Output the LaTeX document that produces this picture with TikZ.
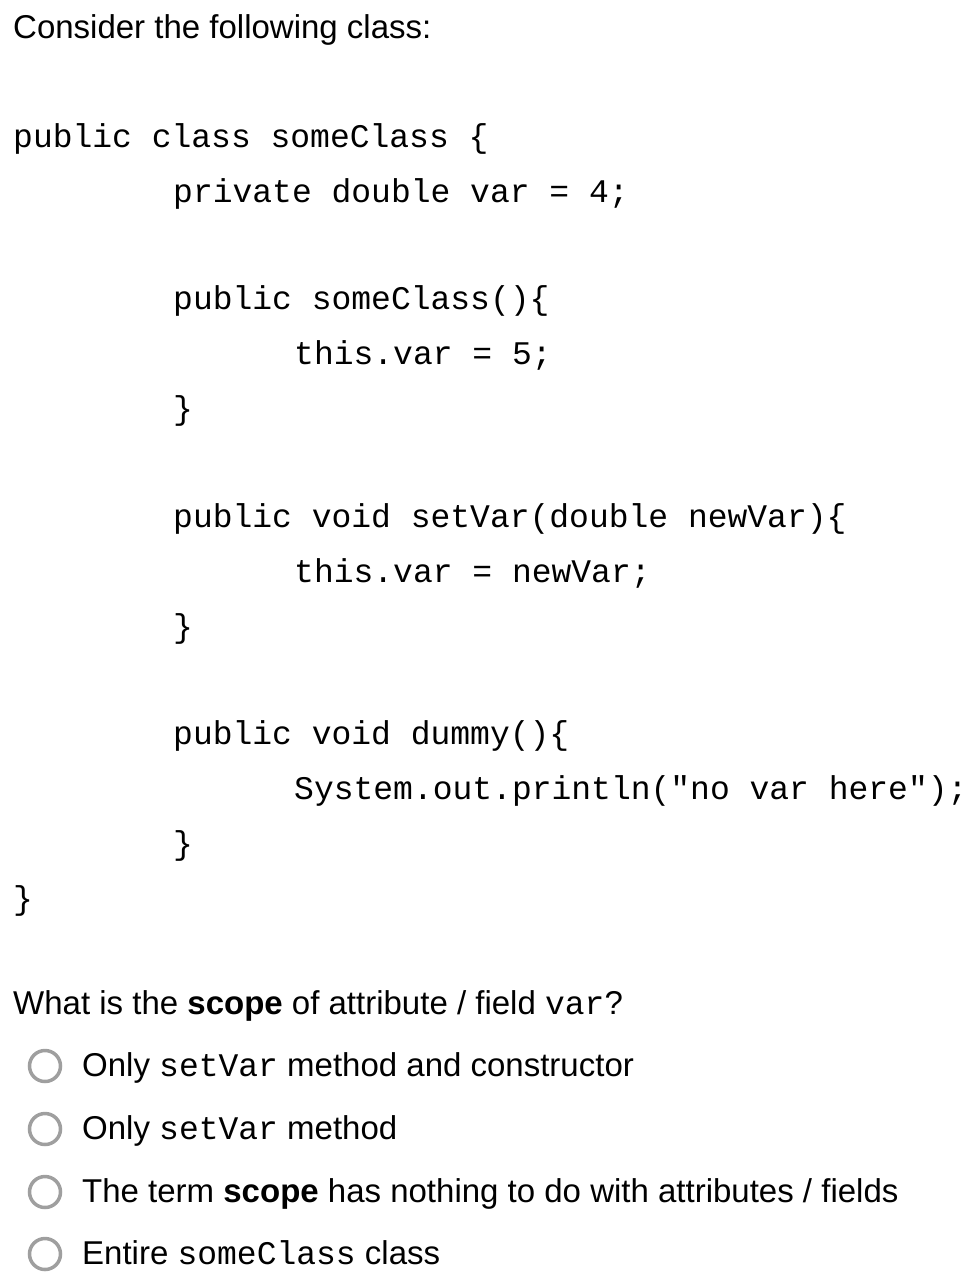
\documentclass[tikz,border=0pt]{standalone}
\usepackage{fontspec}
\setmainfont{Liberation Sans}
\setmonofont{Liberation Mono}
\begin{document}
\begin{tikzpicture}[x=1pt,y=-1pt,
  txt/.style={anchor=mid west,inner sep=0pt,yshift=-8pt,font=\fontsize{33}{38}\selectfont},
  code/.style={anchor=mid west,inner sep=0pt,yshift=-9pt,font=\fontsize{33}{38}\selectfont\ttfamily},
  radio/.style={circle,draw=gray!75,line width=3.5pt,minimum size=31pt,inner sep=0pt}]
\useasboundingbox (0,0) rectangle (975,1282);
\clip (0,0) rectangle (975,1282);
\newcommand{\cw}[1]{{\ttfamily\fontsize{33}{38}\selectfont #1}}
\node[txt] (t0) at (13,28) {Consider the following class:};
\node[code] (c1) at (13,136) {public class someClass \{};
\node[code] (c2) at (173,191) {private double var = 4;};
\node[code] (c3) at (173,298) {public someClass()\{};
\node[code] (c4) at (294,353) {this.var = 5;};
\node[code] (c5) at (173,408) {\}};
\node[code] (c6) at (173,516) {public void setVar(double newVar)\{};
\node[code] (c7) at (294,571) {this.var = newVar;};
\node[code] (c8) at (173,626) {\}};
\node[code] (c9) at (173,733) {public void dummy()\{};
\node[code] (c10) at (294,788) {System.out.println("no var here");};
\node[code] (c11) at (173,843) {\}};
\node[code] (c12) at (13,898) {\}};
\node[txt] (q) at (13,1004) {What is the \textbf{scope} of attribute / field \cw{var}?};
\node[radio] (r1) at (45,1066) {};
\node[radio] (r2) at (45,1129) {};
\node[radio] (r3) at (45,1192) {};
\node[radio] (r4) at (45,1254) {};
\node[txt] (a1) at (82,1066) {Only \cw{setVar} method and constructor};
\node[txt] (a2) at (82,1129) {Only \cw{setVar} method};
\node[txt] (a3) at (82,1192) {The term \textbf{scope} has nothing to do with attributes / fields};
\node[txt] (a4) at (82,1254) {Entire \cw{someClass} class};
\end{tikzpicture}
\end{document}
